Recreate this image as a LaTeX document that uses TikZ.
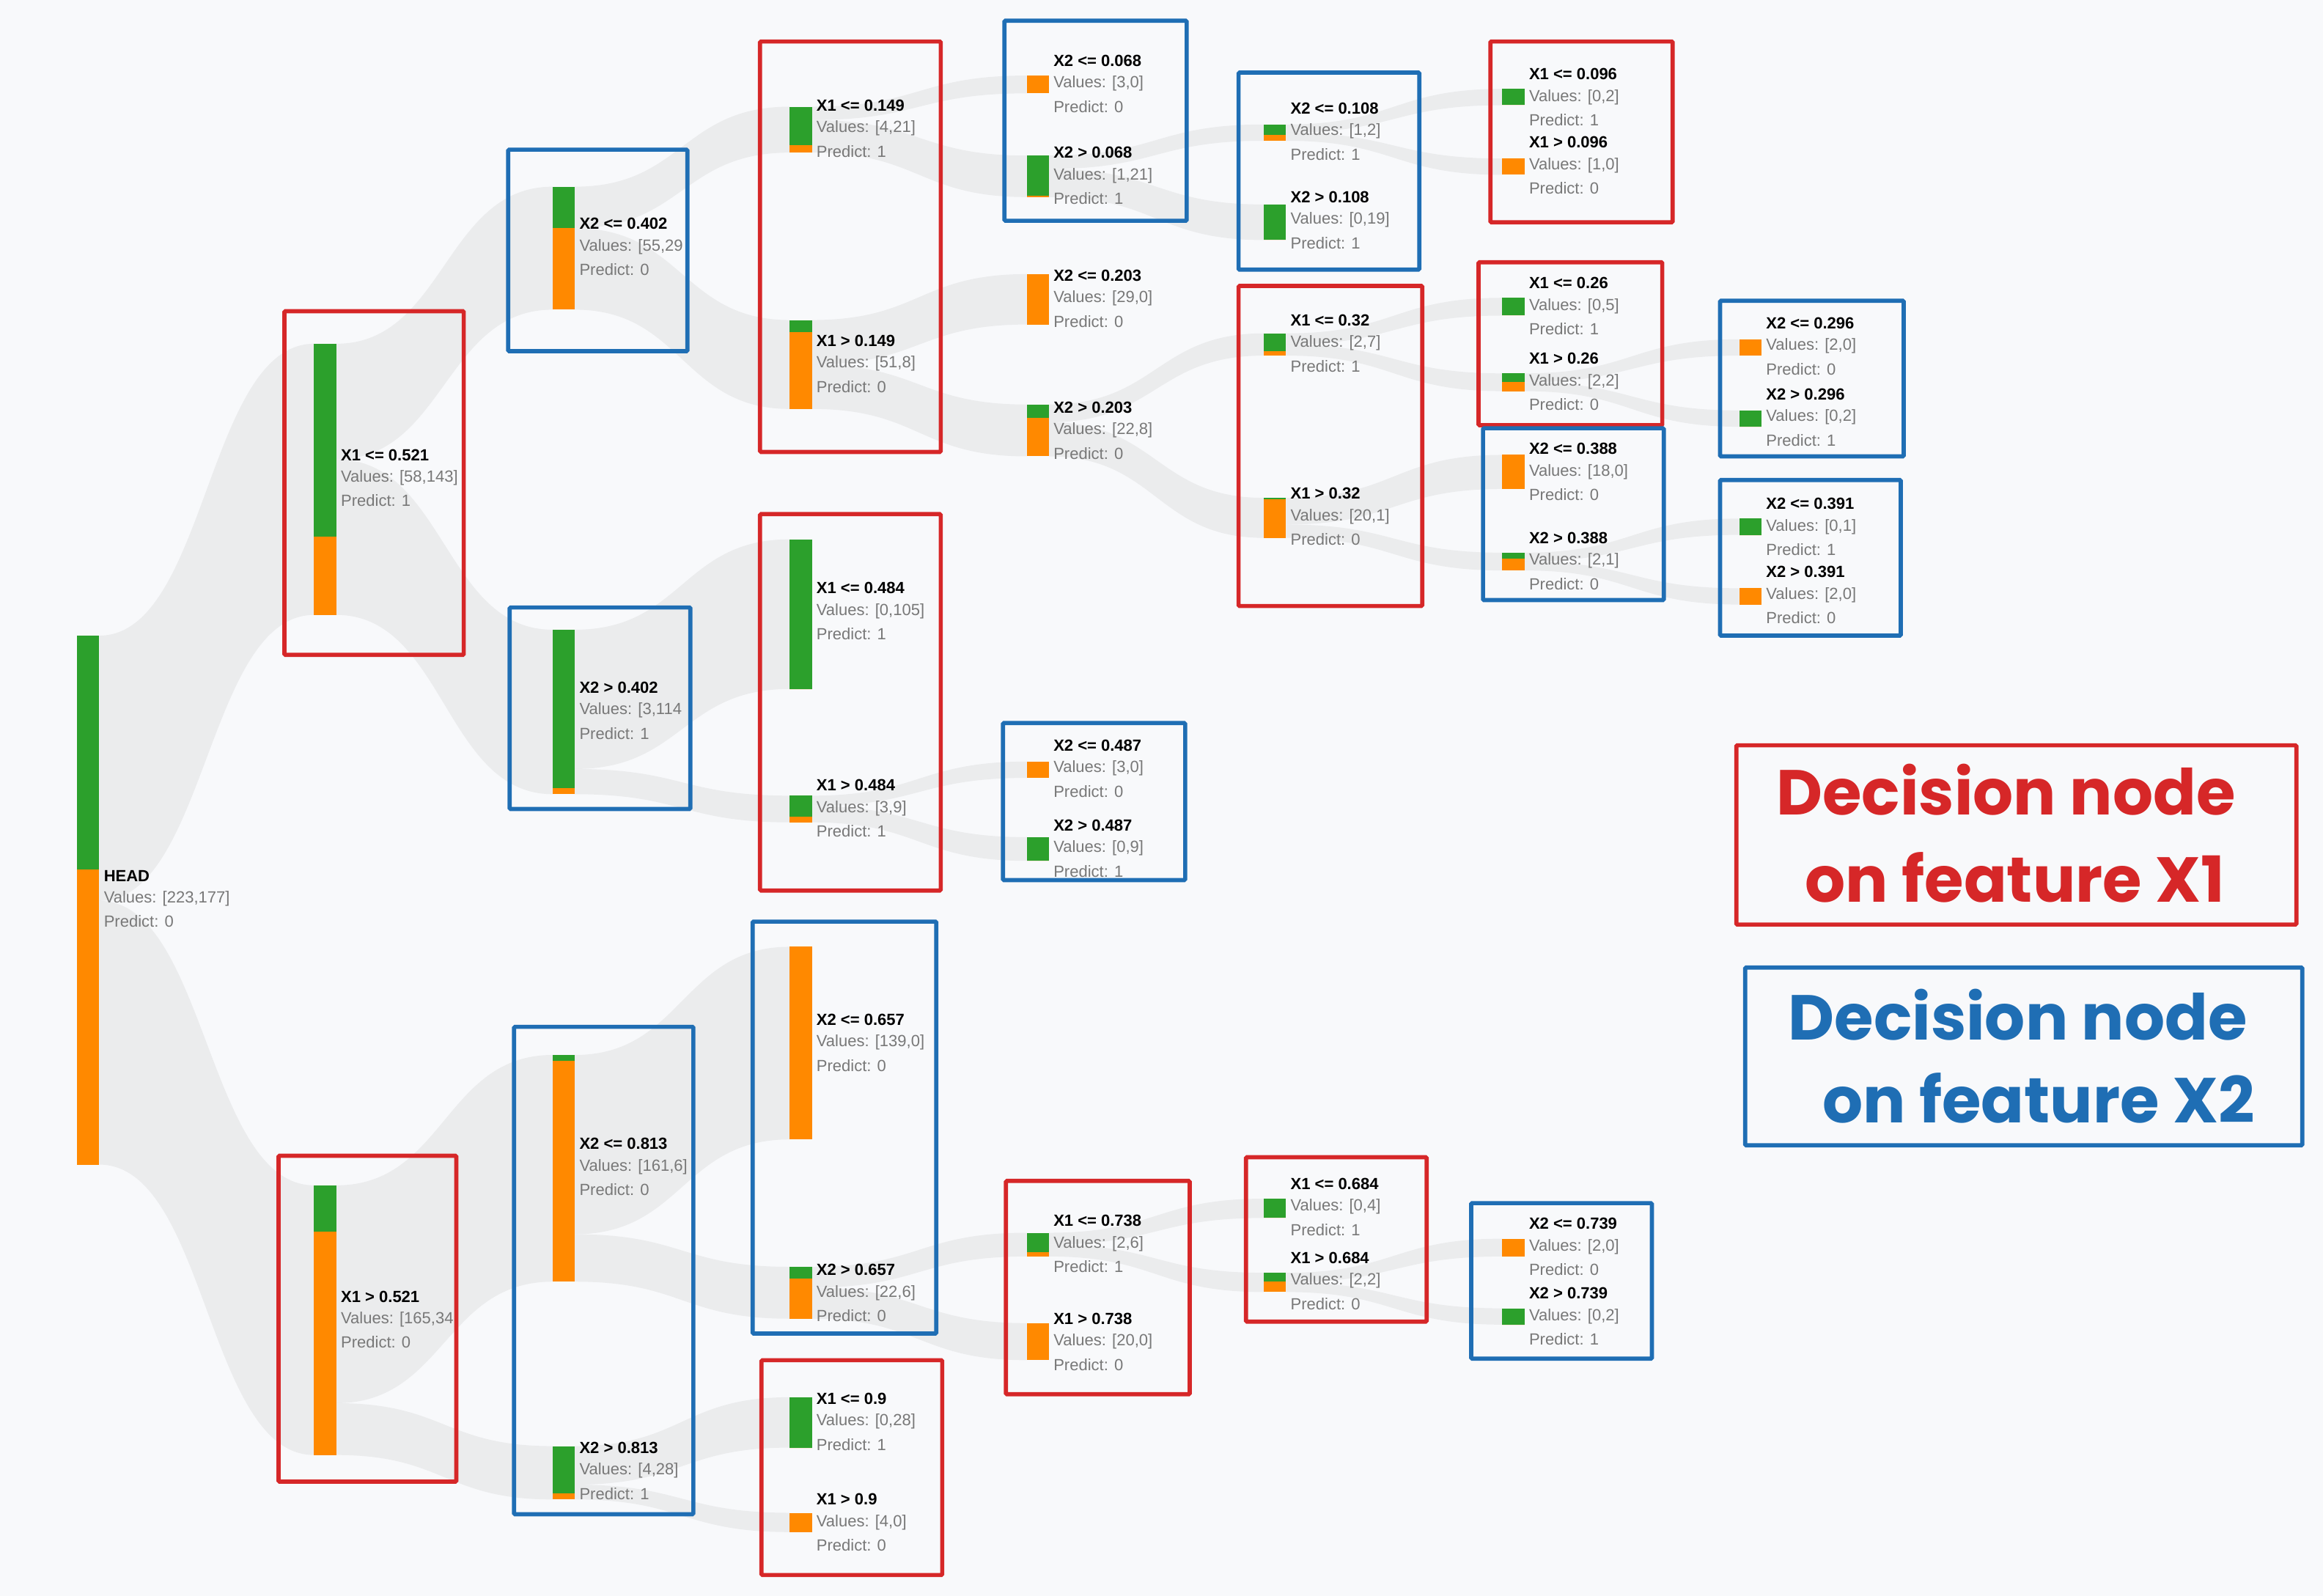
\documentclass[tikz,border=0pt]{standalone}
\usepackage{fontspec}
\setmainfont{Liberation Sans}
\newfontfamily\hand{Poppins}
\definecolor{bg}{RGB}{248,249,251}
\definecolor{gC}{RGB}{44,160,44}
\definecolor{oC}{RGB}{255,137,0}
\definecolor{rC}{RGB}{214,39,40}
\definecolor{bC}{RGB}{31,110,180}
\definecolor{fC}{RGB}{233,234,235}
\definecolor{tC}{RGB}{120,120,120}
\tikzset{
 ttl/.style={anchor=west,inner sep=0pt,font=\fontsize{15.5}{17}\selectfont\bfseries,text=black},
 val/.style={anchor=west,inner sep=0pt,font=\fontsize{15.5}{17}\selectfont,text=tC},
 rbox/.style={draw=rC,line width=4pt,rounded corners=1pt},
 bbox/.style={draw=bC,line width=4pt,rounded corners=1pt},
 flowc/.style={fill=fC,fill opacity=0.85},
 legtxt/.style={inner sep=0pt,font=\hand\bfseries\fontsize{61}{66}\selectfont}
}
\newcommand\bn[9]{%
 \fill[gC] (#2,#3) rectangle (#2+15,#4);
 \fill[oC] (#2,#4) rectangle (#2+15,#5);
 \coordinate (#1) at (#2,#3);
 \node[ttl] (#1t) at (#2+18,#6) {#7};
 \node[val] (#1v) at (#2+18,#6+15.5) {Values: #8};
 \node[val] (#1p) at (#2+18,#6+31) {Predict: #9};
}
\newcommand\fl[6]{%
 \fill[flowc] (#1,#2) .. controls ({(#1+#4)/2},#2) and ({(#1+#4)/2},#5) .. (#4,#5) -- (#4,#6) .. controls ({(#1+#4)/2},#6) and ({(#1+#4)/2},#3) .. (#1,#3) -- cycle;
}
\begin{document}
\begin{tikzpicture}[x=0.05cm,y=-0.05cm]
\fill[bg] (0,0) rectangle (1568,1077);
\useasboundingbox (0,0) rectangle (1568,1077);
% flows
\fl{67}{429}{608}{212}{232}{415}
\fl{67}{608}{786}{212}{800}{982}
\fl{227}{232}{310}{373}{126}{209}
\fl{227}{310}{415}{373}{425}{536}
\fl{227}{800}{947}{373}{712}{865}
\fl{227}{947}{982}{373}{976}{1012}
\fl{388}{126}{154}{533}{72}{103}
\fl{388}{154}{209}{533}{216}{276}
\fl{388}{425}{519}{533}{364}{465}
\fl{388}{519}{536}{533}{537}{555}
\fl{388}{712}{833}{533}{639}{769}
\fl{388}{833}{865}{533}{855}{890}
\fl{388}{976}{1002}{533}{943}{977}
\fl{388}{1002}{1012}{533}{1021}{1034}
\fl{548}{72}{81}{693}{51}{63}
\fl{548}{81}{103}{693}{105}{133}
\fl{548}{216}{246}{693}{185}{219}
\fl{548}{246}{276}{693}{273}{308}
\fl{548}{537}{544}{693}{514}{525}
\fl{548}{544}{555}{693}{565}{581}
\fl{548}{855}{869}{693}{832}{848}
\fl{548}{869}{890}{693}{893}{918}
\fl{708}{105}{114}{853}{84}{95}
\fl{708}{114}{133}{853}{138}{162}
\fl{708}{273}{285}{853}{225}{240}
\fl{708}{285}{308}{853}{336}{363}
\fl{708}{832}{840}{853}{809}{822}
\fl{708}{840}{848}{853}{859}{872}
\fl{868}{84}{89.5}{1014}{60}{71}
\fl{868}{89.5}{95}{1014}{107}{118}
\fl{868}{225}{232.5}{1014}{201}{213}
\fl{868}{232.5}{240}{1014}{252}{264}
\fl{868}{336}{354}{1014}{307}{330}
\fl{868}{354}{363}{1014}{373}{385}
\fl{868}{859}{865.5}{1014}{836}{848}
\fl{868}{865.5}{872}{1014}{883}{894}
\fl{1029}{252}{258}{1174}{229}{240}
\fl{1029}{258}{264}{1174}{277}{288}
\fl{1029}{373}{379}{1174}{350}{361}
\fl{1029}{379}{385}{1174}{397}{408}
% bars
\bn{head}{52}{429}{587}{786}{591}{HEAD}{[223,177]}{0}
\bn{A}{212}{232}{362}{415}{307}{X1 <= 0.521}{[58,143]}{1}
\bn{B}{212}{800}{831}{982}{875}{X1 > 0.521}{[165,34}{0}
\bn{C}{373}{126}{154}{209}{151}{X2 <= 0.402}{[55,29}{0}
\bn{D}{373}{425}{532}{536}{464}{X2 > 0.402}{[3,114}{1}
\bn{E}{373}{712}{716}{865}{772}{X2 <= 0.813}{[161,6]}{0}
\bn{F}{373}{976}{1008}{1012}{977}{X2 > 0.813}{[4,28]}{1}
\bn{G}{533}{72}{98}{103}{71}{X1 <= 0.149}{[4,21]}{1}
\bn{H}{533}{216}{224}{276}{230}{X1 > 0.149}{[51,8]}{0}
\bn{I}{533}{364}{465}{465}{397}{X1 <= 0.484}{[0,105]}{1}
\bn{J}{533}{537}{551}{555}{530}{X1 > 0.484}{[3,9]}{1}
\bn{K}{533}{639}{639}{769}{688}{X2 <= 0.657}{[139,0]}{0}
\bn{L}{533}{855}{863}{890}{857}{X2 > 0.657}{[22,6]}{0}
\bn{M}{533}{943}{977}{977}{944}{X1 <= 0.9}{[0,28]}{1}
\bn{N}{533}{1021}{1021}{1034}{1012}{X1 > 0.9}{[4,0]}{0}
\bn{O}{693}{51}{51}{63}{41}{X2 <= 0.068}{[3,0]}{0}
\bn{P}{693}{105}{132}{133}{103}{X2 > 0.068}{[1,21]}{1}
\bn{Q}{693}{185}{185}{219}{186}{X2 <= 0.203}{[29,0]}{0}
\bn{R}{693}{273}{282}{308}{275}{X2 > 0.203}{[22,8]}{0}
\bn{S}{693}{514}{514}{525}{503}{X2 <= 0.487}{[3,0]}{0}
\bn{T}{693}{565}{581}{581}{557}{X2 > 0.487}{[0,9]}{1}
\bn{U}{693}{832}{845}{848}{824}{X1 <= 0.738}{[2,6]}{1}
\bn{V}{693}{893}{893}{918}{890}{X1 > 0.738}{[20,0]}{0}
\bn{W}{853}{84}{91}{95}{73}{X2 <= 0.108}{[1,2]}{1}
\bn{X}{853}{138}{162}{162}{133}{X2 > 0.108}{[0,19]}{1}
\bn{Y}{853}{225}{237}{240}{216}{X1 <= 0.32}{[2,7]}{1}
\bn{Z}{853}{336}{337}{363}{333}{X1 > 0.32}{[20,1]}{0}
\bn{AA}{853}{809}{822}{822}{799}{X1 <= 0.684}{[0,4]}{1}
\bn{AB}{853}{859}{865}{872}{849}{X1 > 0.684}{[2,2]}{0}
\bn{AC}{1014}{60}{71}{71}{50}{X1 <= 0.096}{[0,2]}{1}
\bn{AD}{1014}{107}{107}{118}{96}{X1 > 0.096}{[1,0]}{0}
\bn{AE}{1014}{201}{213}{213}{191}{X1 <= 0.26}{[0,5]}{1}
\bn{AF}{1014}{252}{258}{264}{242}{X1 > 0.26}{[2,2]}{0}
\bn{AG}{1014}{307}{307}{330}{303}{X2 <= 0.388}{[18,0]}{0}
\bn{AH}{1014}{373}{377}{385}{363}{X2 > 0.388}{[2,1]}{0}
\bn{AI}{1014}{836}{836}{848}{826}{X2 <= 0.739}{[2,0]}{0}
\bn{AJ}{1014}{883}{894}{894}{873}{X2 > 0.739}{[0,2]}{1}
\bn{AK}{1174}{229}{229}{240}{218}{X2 <= 0.296}{[2,0]}{0}
\bn{AL}{1174}{277}{288}{288}{266}{X2 > 0.296}{[0,2]}{1}
\bn{AM}{1174}{350}{361}{361}{340}{X2 <= 0.391}{[0,1]}{1}
\bn{AN}{1174}{397}{397}{408}{386}{X2 > 0.391}{[2,0]}{0}
% boxes
\draw[rbox] (192,210) rectangle (313,442);
\draw[rbox] (188,780) rectangle (308,1000);
\draw[bbox] (343,101) rectangle (464,237);
\draw[bbox] (344,410) rectangle (466,546);
\draw[bbox] (347,693) rectangle (468,1022);
\draw[rbox] (513,28) rectangle (635,305);
\draw[rbox] (513,347) rectangle (635,601);
\draw[bbox] (508,622) rectangle (632,900);
\draw[rbox] (514,918) rectangle (636,1063);
\draw[bbox] (678,14) rectangle (801,149);
\draw[bbox] (677,488) rectangle (800,594);
\draw[rbox] (679,797) rectangle (803,941);
\draw[bbox] (836,49) rectangle (958,182);
\draw[rbox] (836,193) rectangle (960,409);
\draw[rbox] (841,781) rectangle (963,892);
\draw[rbox] (1006,28) rectangle (1129,150);
\draw[rbox] (998,177) rectangle (1122,287);
\draw[bbox] (1001,289) rectangle (1123,405);
\draw[bbox] (993,812) rectangle (1115,917);
\draw[bbox] (1161,203) rectangle (1285,308);
\draw[bbox] (1161,324) rectangle (1283,429);
% legend
\draw[rbox] (1172,503) rectangle (1550,624);
\draw[bbox] (1178,653) rectangle (1554,773);
\node[legtxt,text=rC] (l1a) at (1354,533) {Decision node};
\node[legtxt,text=rC] (l1b) at (1360,592) {on feature X1};
\node[legtxt,text=bC] (l2a) at (1362,685) {Decision node};
\node[legtxt,text=bC] (l2b) at (1376,741) {on feature X2};
\end{tikzpicture}
\end{document}
